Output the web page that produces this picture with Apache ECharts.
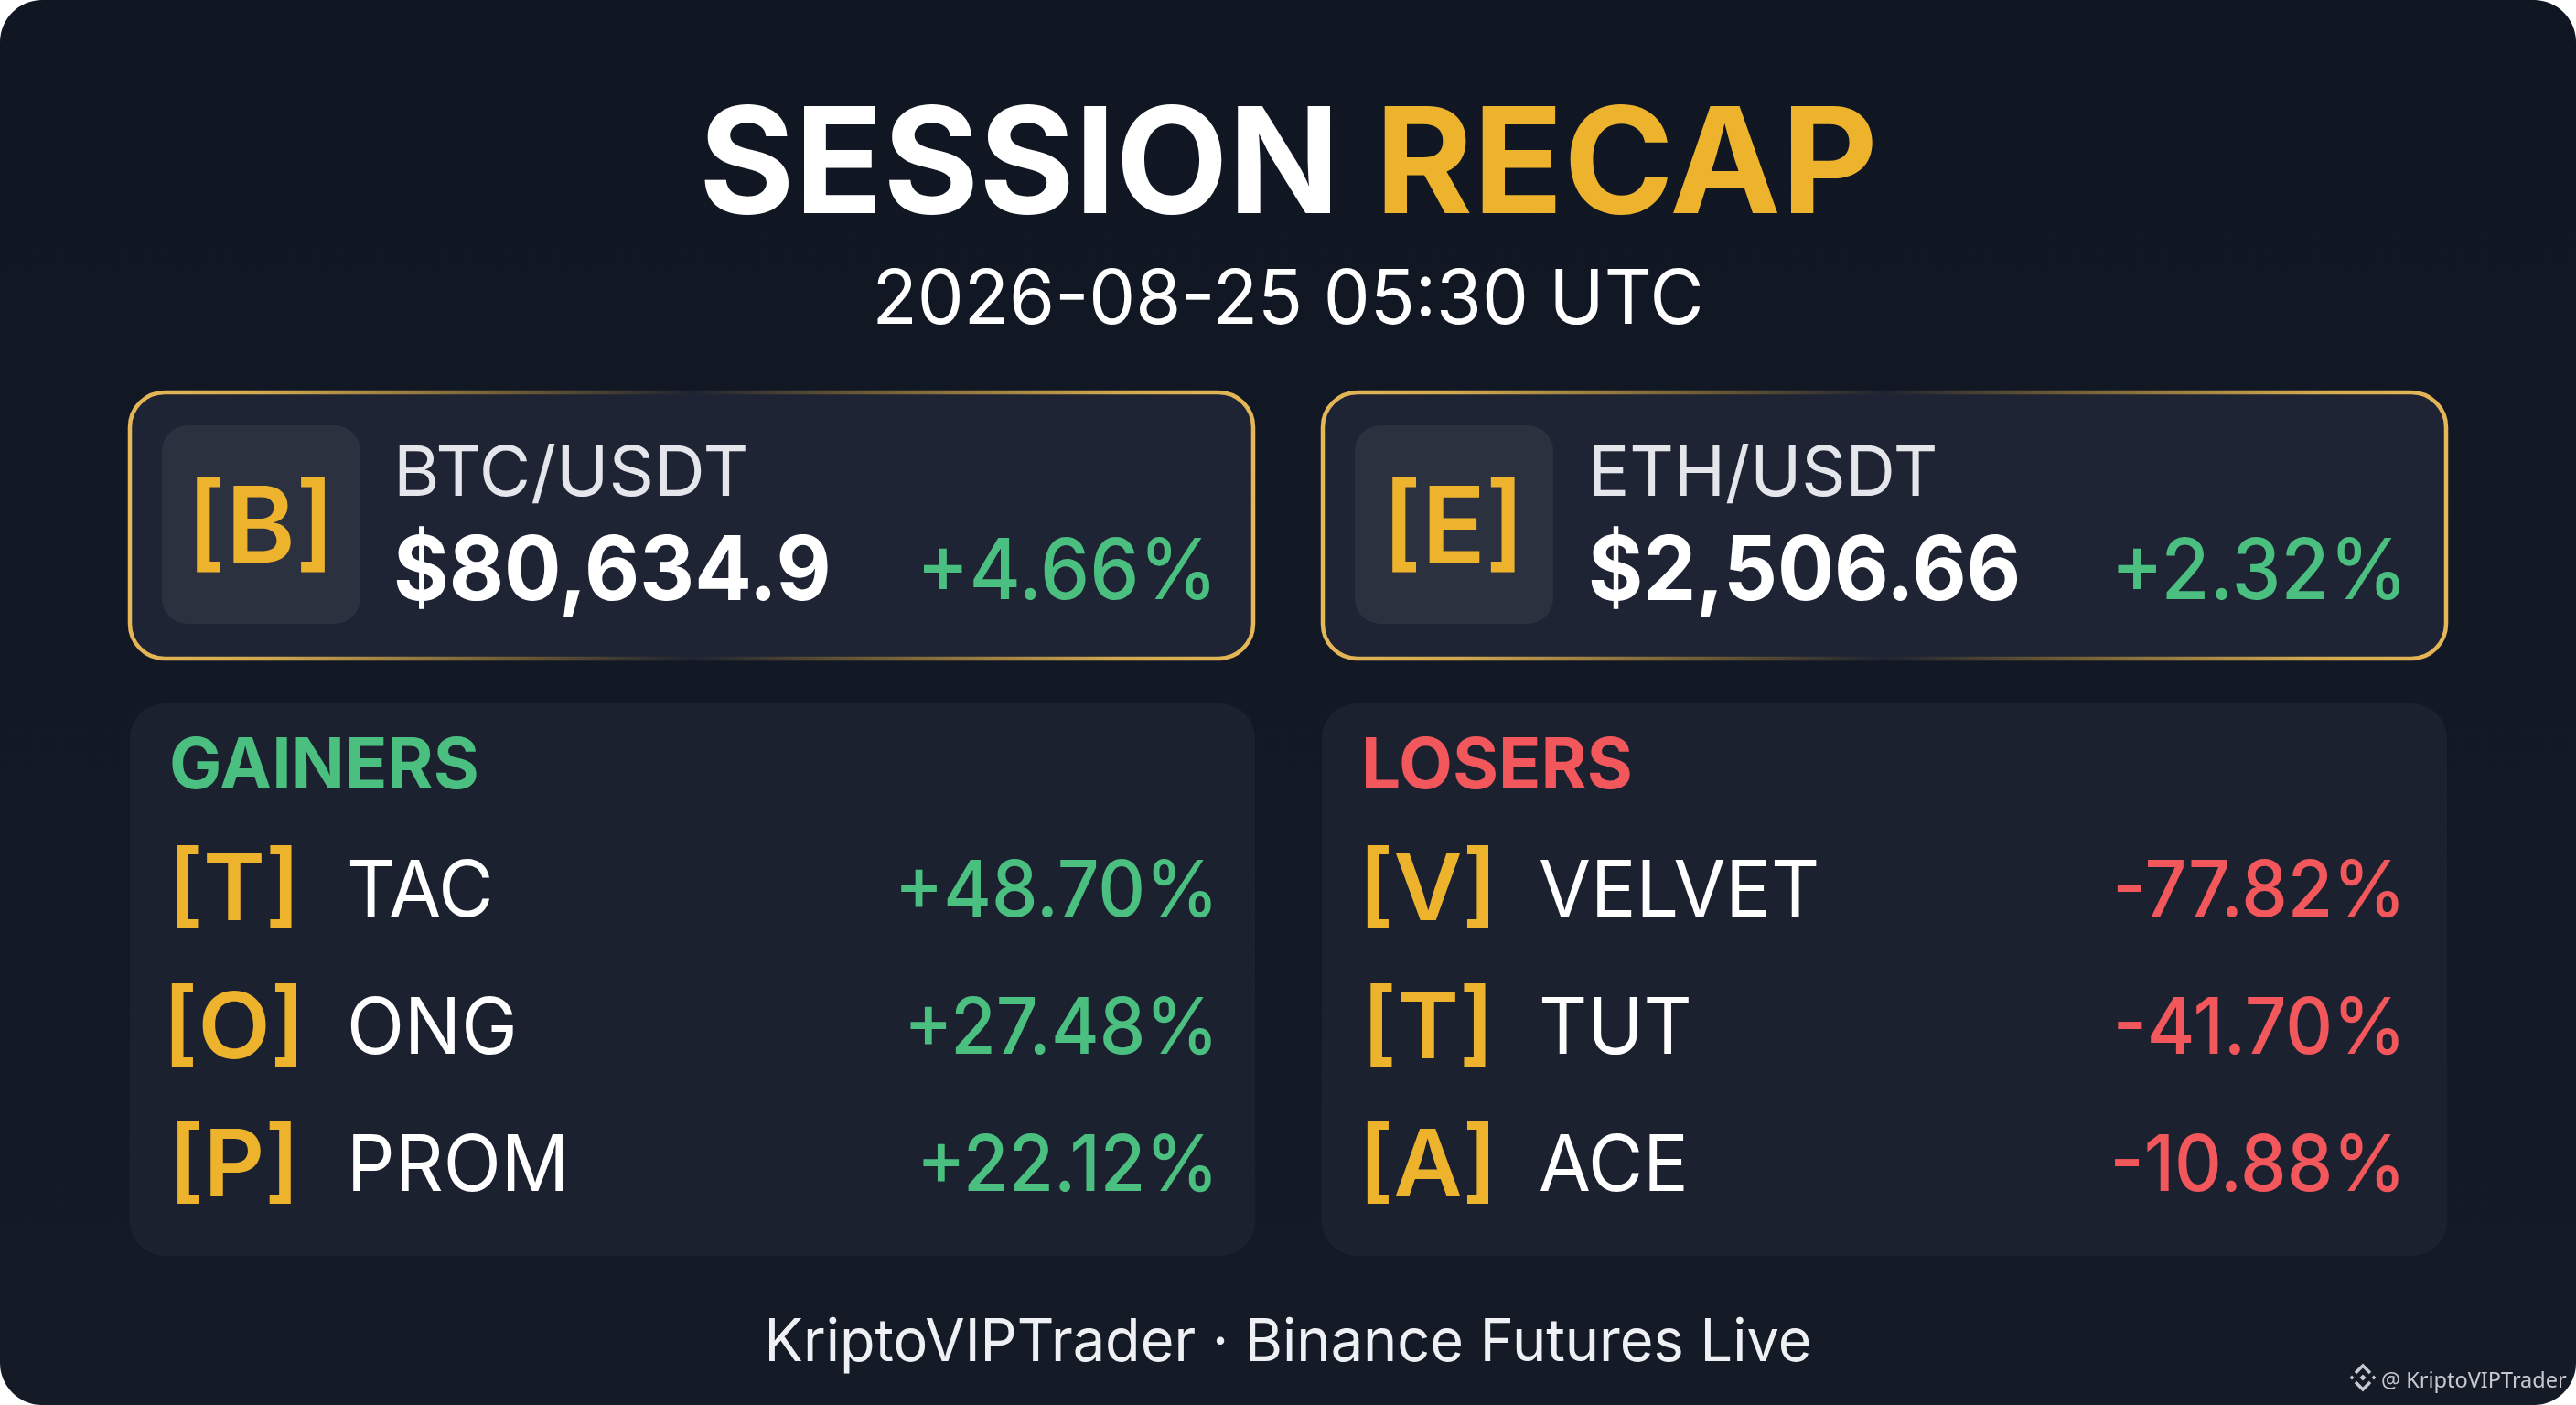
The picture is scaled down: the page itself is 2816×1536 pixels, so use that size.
<!DOCTYPE html>
<html><head><meta charset="utf-8">
<style>html,body{margin:0;padding:0;background:#fff}#c{width:2816px;height:1536px}</style>
<script src="https://cdn.jsdelivr.net/npm/echarts@6/dist/echarts.min.js"></script>
</head><body><div id="c"></div>
<script>
const titleWhite='SESSION', titleGold='RECAP';
const subtitle='2026-08-25 05:30 UTC';
const footer='KriptoVIPTrader · Binance Futures Live';
const watermark='@ KriptoVIPTrader';
const pairNames=['BTC/USDT','ETH/USDT'];
const pairBadges=['[B]','[E]'];
const pairPrices=['$80,634.9','$2,506.66'];
const pairChanges=[4.66,2.32];
const gainerHeading='GAINERS', loserHeading='LOSERS';
const gainerBadges=['[T]','[O]','[P]'];
const gainerNames=['TAC','ONG','PROM'];
const gainerChanges=[48.70,27.48,22.12];
const loserBadges=['[V]','[T]','[A]'];
const loserNames=['VELVET','TUT','ACE'];
const loserChanges=[-77.82,-41.70,-10.88];

const GOLD='#eeb32d',GREEN='#4abf80',RED='#f2575c',WHITE='#ffffff',F='Inter';
const fmt=v=>(v>=0?'+':'')+v.toFixed(2)+'%';
const txt=(x,y,text,size,weight,fill,align,sx)=>({type:'text',x,y,scaleX:sx||1,silent:true,style:{text,font:`${weight} ${size}px ${F}`,fill,textAlign:align||'left',textVerticalAlign:'middle'}});
const rr=(x,y,w,h,r,fill,extra)=>({type:'rect',silent:true,shape:{x,y,width:w,height:h,r},style:Object.assign({fill},extra||{})});

const g=[];
g.push(rr(0,0,2816,1536,46,{type:'linear',x:0,y:0,x2:0,y2:1,colorStops:[{offset:0,color:'#101622'},{offset:1,color:'#151a27'}]}));
g.push(txt(764,185,titleWhite,161,700,WHITE,'left',.992));
g.push(txt(1503,185,titleGold,161,700,GOLD,'left',1.013));
g.push(txt(1408,329,subtitle,82,400,WHITE,'center',.985));

const cardX=[142,1446],panelX=[142,1445],cardW=1228,panelW=1230;
const textDx=[288,290],nameSx=[1.03,1.005],priceSx=[.946,.938],changeDx=[1189,1186];
const borderGrad={type:'linear',x:0,y:0,x2:1,y2:0,colorStops:[
 {offset:0,color:'#e6b757'},{offset:.12,color:'#d3a94f'},{offset:.34,color:'#6f5c35'},{offset:.5,color:'#1f2431'},
 {offset:.66,color:'#6f5c35'},{offset:.88,color:'#d3a94f'},{offset:1,color:'#e6b757'}]};
pairNames.forEach((n,i)=>{
  const x=cardX[i];
  g.push(rr(x,429,cardW,291,38,'#1e2433',{stroke:borderGrad,lineWidth:4.5}));
  g.push(rr(x+35,465,217,217,28,'#2c3140'));
  g.push(txt(x+143,580,pairBadges[i],115,600,GOLD,'center'));
  g.push(txt(x+textDx[i],519,n,75,400,'#e4e6eb','left',nameSx[i]));
  g.push(txt(x+textDx[i],627,pairPrices[i],98,700,WHITE,'left',priceSx[i]));
  g.push(txt(x+changeDx[i],627,fmt(pairChanges[i]),92,500,GREEN,'right',.936));
});
[0,1].forEach(i=>{
  g.push(rr(panelX[i],769,panelW,604,38,'#1c2130'));
});
g.push(txt(185,839,gainerHeading,76.5,700,GREEN));
g.push(txt(1488,839,loserHeading,76.5,700,RED));
g.push(txt(1408,1468,footer,65,400,'#eef0f4','center',.97));
g.push({type:'text',x:2603,y:1510,silent:true,style:{text:watermark,font:'400 23.5px "Noto Sans"',fill:'#c6c9cf',textAlign:'left',textVerticalAlign:'middle'}});
// exchange mark next to the watermark
const mx=2583,my=1506,mc='#c6c9cf';
g.push({type:'polyline',silent:true,shape:{points:[[mx-8,my-5],[mx,my-13],[mx+8,my-5]]},style:{stroke:mc,lineWidth:3.5,fill:null}});
g.push({type:'polyline',silent:true,shape:{points:[[mx-8,my+5],[mx,my+13],[mx+8,my+5]]},style:{stroke:mc,lineWidth:3.5,fill:null}});
[[0,3.6],[-12,2.4],[12,2.4]].forEach(d=>g.push({type:'polygon',silent:true,shape:{points:[[mx+d[0]-d[1],my],[mx+d[0],my-d[1]],[mx+d[0]+d[1],my],[mx+d[0],my+d[1]]]},style:{fill:mc}}));

// list rows go through hidden axes
const COL={badge:114,name:237,value:1190};
const grids=[],xA=[],yA=[],series=[];
function list(idx,left,names,badges,changes,color,nameCol,badgeCol,valueCol){
  grids.push({left,width:panelW,top:901,height:451});
  xA.push({type:'value',gridIndex:idx,min:0,max:panelW,show:false});
  yA.push({type:'category',gridIndex:idx,data:names,inverse:true,show:false});
  const mk=(col,vals,size,weight,fill,align,sx,format)=>({type:'custom',coordinateSystem:'cartesian2d',xAxisIndex:idx,yAxisIndex:idx,silent:true,
    encode:{x:0,y:1},
    data:names.map((n,i)=>[col,i]),
    renderItem:(p,api)=>{
      const c=api.coord([api.value(0),api.value(1)]);
      const v=vals[p.dataIndex];
      return {type:'text',x:c[0],y:c[1],scaleX:sx,silent:true,style:{text:format?format(v):v,font:`${weight} ${size}px ${F}`,fill,textAlign:align,textVerticalAlign:'middle'}};
    }});
  series.push(mk(badgeCol,badges,100,600,GOLD,'center',1.03));
  series.push(mk(nameCol,names,85,400,WHITE,'left',.97));
  series.push(mk(valueCol,changes,85,500,color,'right',.945,fmt));
}
list(0,142,gainerNames,gainerBadges,gainerChanges,GREEN,COL.name,COL.badge,COL.value);
list(1,1440,loserNames,loserBadges,loserChanges,RED,COL.name+5,COL.badge+7,COL.value);

const chart=echarts.init(document.getElementById('c'),null,{renderer:'canvas',devicePixelRatio:1});
chart.setOption({animation:false,backgroundColor:'transparent',graphic:{elements:g},grid:grids,xAxis:xA,yAxis:yA,series});
</script></body></html>
